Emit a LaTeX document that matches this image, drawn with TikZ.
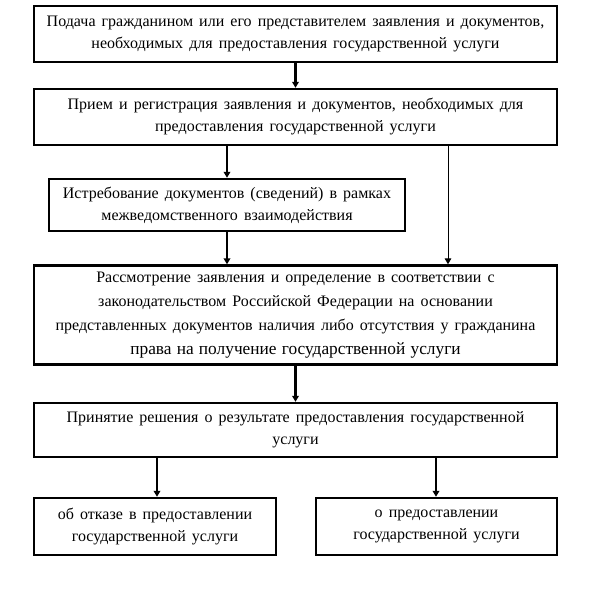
\documentclass[tikz,border=0pt]{standalone}
\usepackage{fontspec}
\setmainfont{Liberation Serif}
\usetikzlibrary{positioning, arrows.meta}

\newcommand{\blockfont}{\fontsize{12}{16.5}\selectfont\spaceskip=0.38em plus 0.1em\relax}
\newcommand{\reviewfont}{\fontsize{12}{18}\selectfont\spaceskip=0.38em plus 0.1em\relax}
\newcommand{\bigline}{\fontsize{13}{18}\selectfont\spaceskip=0.3em plus 0.1em\relax}

\tikzset{
  block/.style={draw, line width=1.8pt, align=center, inner sep=2pt, font=\blockfont},
  link/.style={-{Triangle[width=5pt,length=4.5pt]}, line width=2.2pt},
  thinlink/.style={-{Triangle[width=5pt,length=4.5pt]}, line width=0.7pt},
}

\begin{document}
\begin{tikzpicture}[x=0.75pt, y=-0.75pt]
  \useasboundingbox (0,0) rectangle (598,605);

  \node[block, minimum width=392.25pt, minimum height=42pt] (submit) at (295.5,34)
    {Подача гражданином  или его представителем  заявления  и документов,\\
     необходимых  для предоставления  государственной  услуги};
  \node[block, minimum width=392.25pt, minimum height=42pt] (accept) at (295.5,117)
    {Прием и регистрация  заявления  и документов, необходимых  для\\
     предоставления  государственной  услуги};
  \node[block, minimum width=267pt, minimum height=39pt] (request) at (227,205)
    {Истребование  документов (сведений) в рамках\\
     межведомственного  взаимодействия};
  \node[block, minimum width=392.25pt, minimum height=74.25pt, font=\reviewfont] (review) at (295.5,315)
    {Рассмотрение заявления  и определение  в соответствии с\\
     законодательством  Российской Федерации  на основании\\
     представленных  документов наличия  либо отсутствия  у гражданина\\
     {\bigline права на получение государственной услуги}};
  \node[block, minimum width=392.25pt, minimum height=40.5pt] (decide) at (295.5,430)
    {Принятие  решения  о результате предоставления  государственной\\
     услуги};
  \node[block, minimum width=181.5pt, minimum height=42.75pt] (refuse) at (155,526.5)
    {об отказе в предоставлении\\
     государственной  услуги};
  \node[block, minimum width=180.75pt, minimum height=42.75pt] (grant) at (436.5,526.5)
    {о предоставлении\\
     государственной  услуги};

  \coordinate (side) at (448,0);
  \coordinate (left) at (157,0);
  \coordinate (right) at (436,0);

  \draw[link] (submit) -- (accept);
  \draw[link] (accept.south -| request) -- (request);
  \draw[link] (request) -- (review.north -| request);
  \draw[thinlink] (accept.south -| side) -- (review.north -| side);
  \draw[link] (review) -- (decide);
  \draw[link] (decide.south -| left) -- (refuse.north -| left);
  \draw[link] (decide.south -| right) -- (grant.north -| right);
\end{tikzpicture}
\end{document}
